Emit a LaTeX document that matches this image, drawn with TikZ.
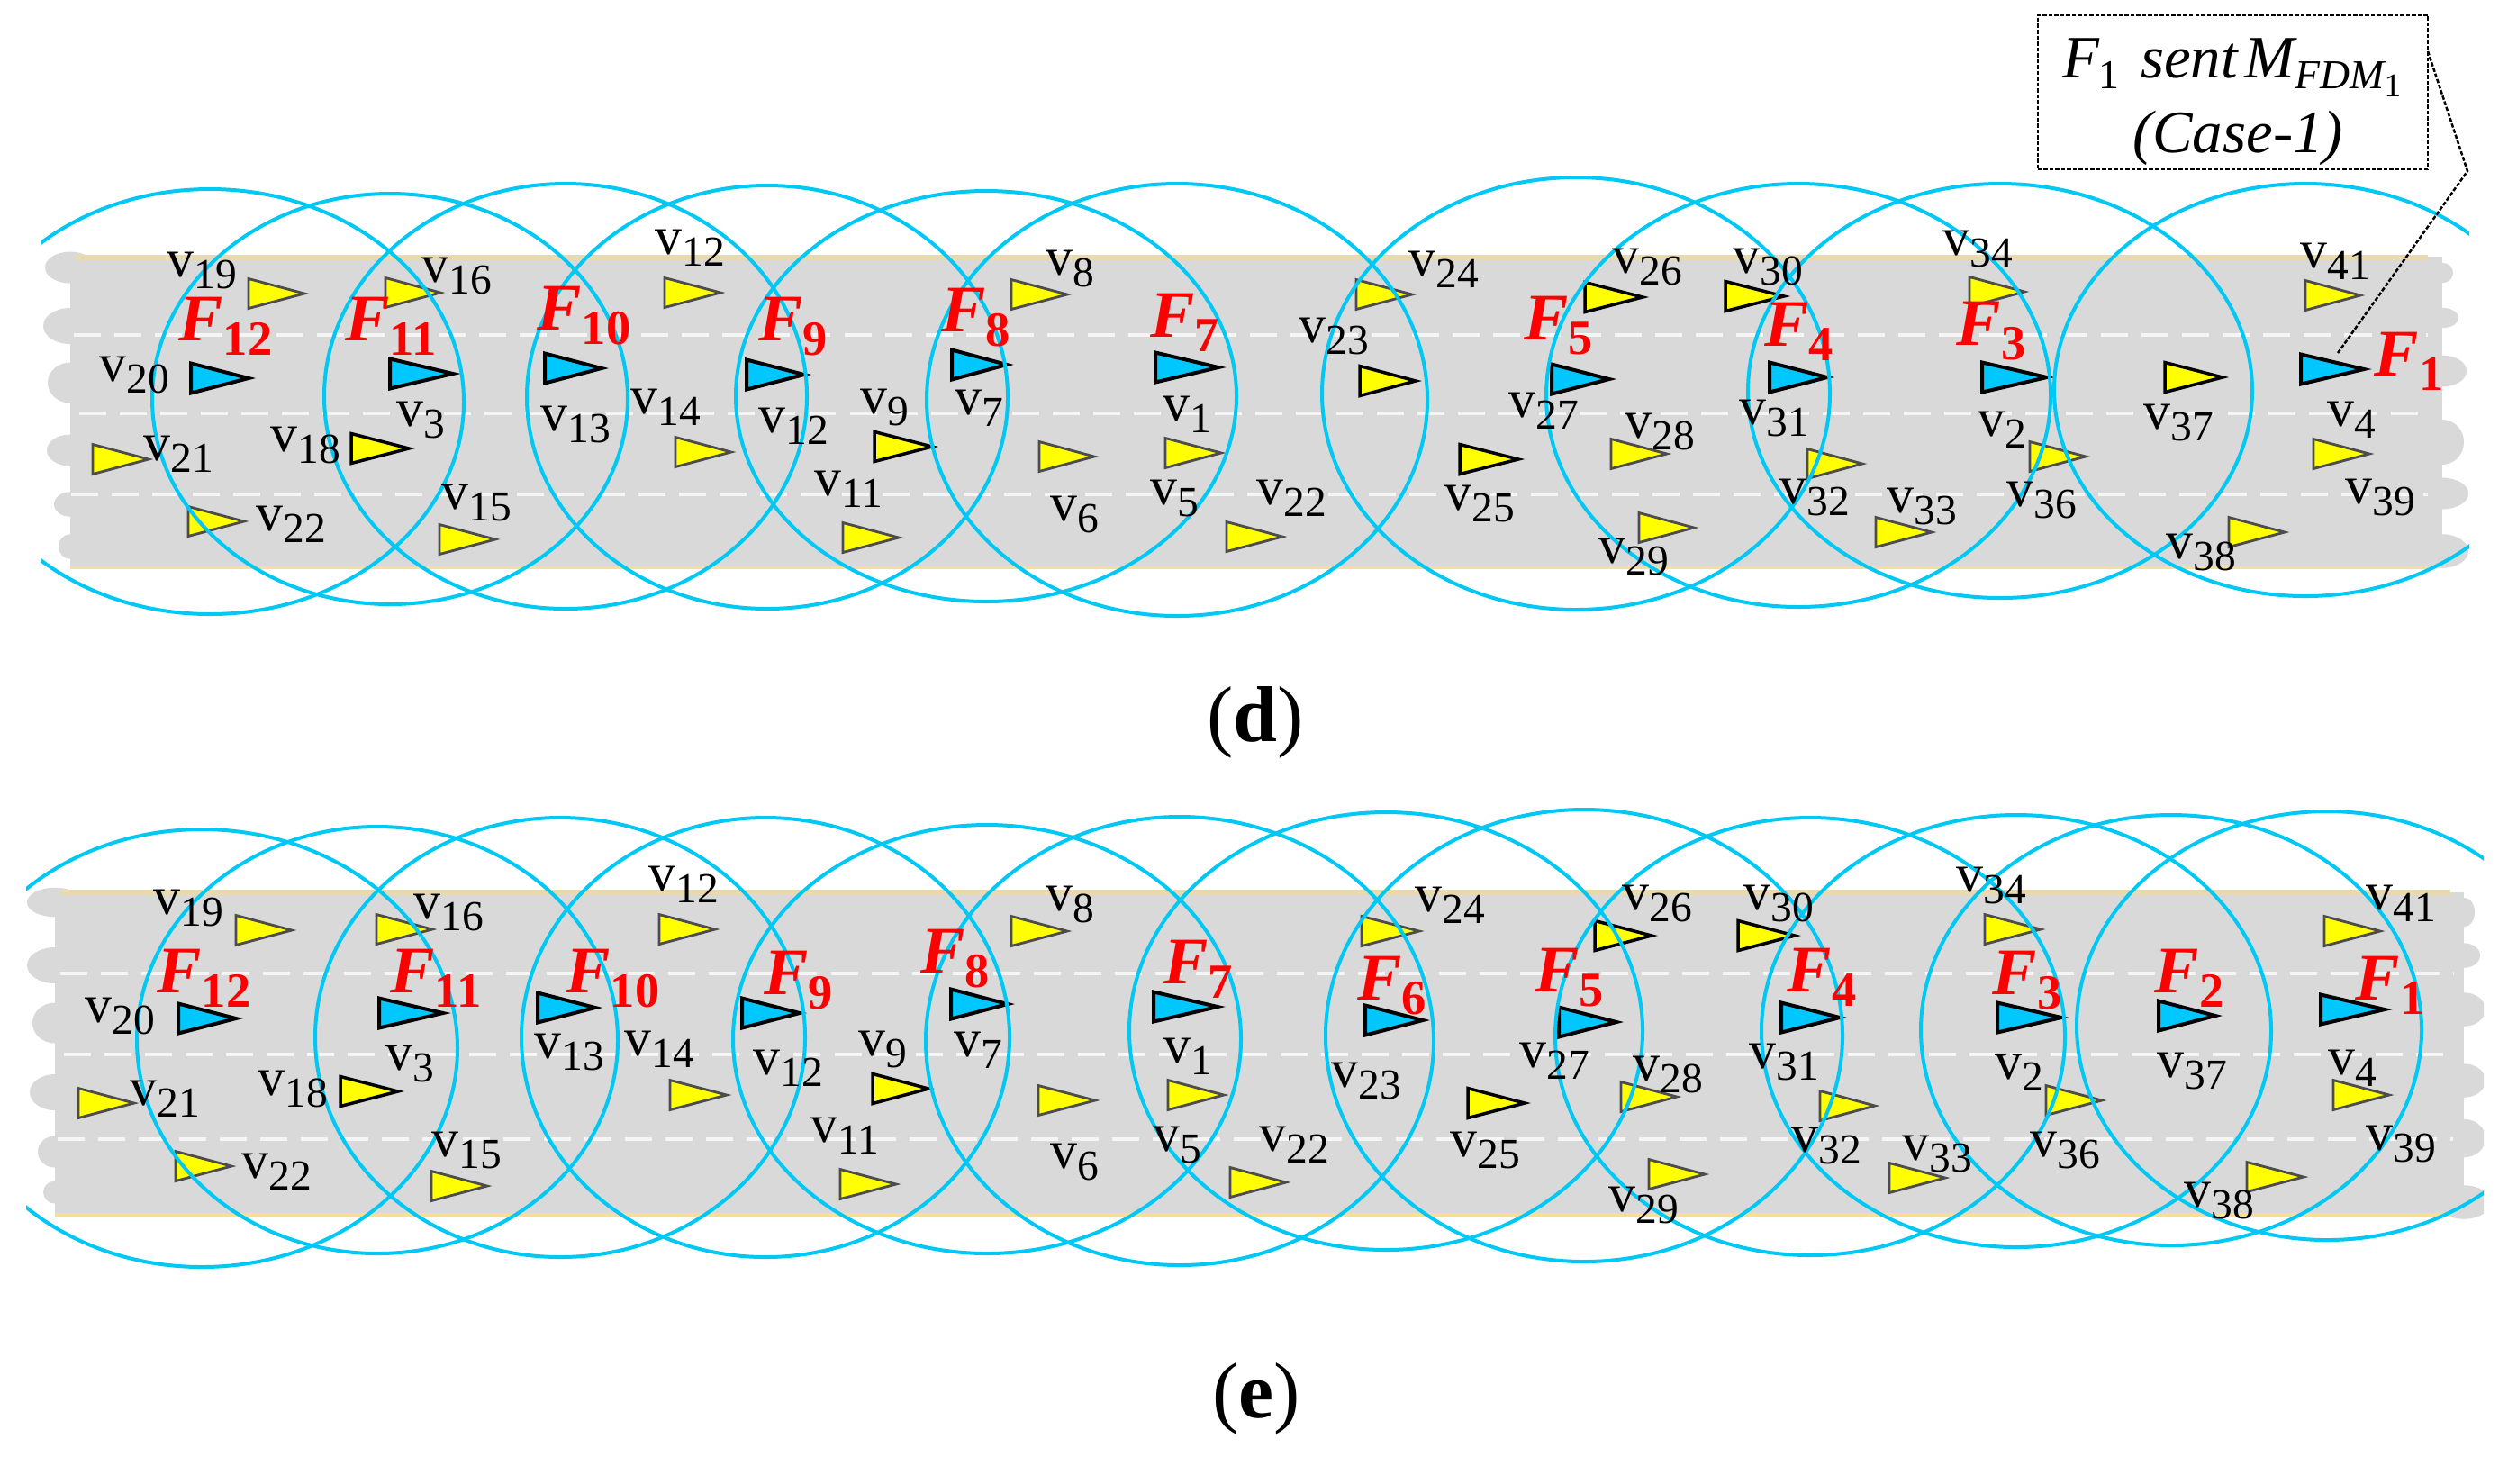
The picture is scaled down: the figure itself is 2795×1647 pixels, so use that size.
\documentclass[tikz,border=0pt]{standalone}
\usepackage{fontspec}
\setmainfont{Liberation Serif}
\definecolor{roadgray}{HTML}{D9D9D9}
\definecolor{tantop}{HTML}{E8D9AE}
\definecolor{tanbot}{HTML}{F5E09A}
\definecolor{rangecyan}{HTML}{00C8F5}
\definecolor{vehblue}{HTML}{00C8FF}
\definecolor{vehyel}{HTML}{FFFF00}
\newcount\lblcnt
\newcommand{\vlab}[3]{\global\advance\lblcnt by 1
  \node[vtext] (L\the\lblcnt) at (#1,#2) {v\raisebox{-3.9pt}{\fontsize{13.5}{14}\selectfont #3}};}
\newcommand{\flab}[3]{\global\advance\lblcnt by 1
  \node[ftext] (L\the\lblcnt) at (#1,#2) {\textit{F}\raisebox{-4.6pt}{\fontsize{15.5}{16}\selectfont #3}};}
\newcommand{\veh}[4]{\draw[#4] (#1,#2-16.5) -- (#1+#3,#2) -- (#1,#2+16.5) -- cycle;}
\newcommand{\ring}[4]{\draw[rangering] (#1,#2) ellipse [x radius=#3*0.01cm,y radius=#4*0.01cm];}
\newcommand{\bump}[4]{\fill[roadgray] (#1,#2) ellipse [x radius=#3*0.01cm,y radius=#4*0.0125cm];}
\tikzset{
  vtext/.style={anchor=base west,inner sep=0pt,text=black,font=\fontsize{17}{18}\selectfont},
  ftext/.style={anchor=base west,inner sep=0pt,text=red,font=\fontsize{21}{22}\selectfont\bfseries},
  vthin/.style={draw=black!70,line width=0.028cm,fill=vehyel,line join=miter},
  vbold/.style={draw=black,line width=0.035cm,fill=vehyel,line join=miter},
  vblue/.style={draw=black,line width=0.04cm,fill=vehblue,line join=miter},
  rangering/.style={draw=rangecyan,line width=0.04cm},
  lanedash/.style={draw=white!96!black,line width=0.04cm,dash pattern=on 0.3cm off 0.15cm},
  captext/.style={inner sep=0pt,font=\fontsize{25}{27}\selectfont,anchor=base},
  callout/.style={draw=black,line width=0.025cm,dash pattern=on 0.045cm off 0.02cm},
  boxtext/.style={inner sep=0pt,anchor=base,font=\fontsize{19}{21}\selectfont\itshape},
}
\begin{document}
\begin{tikzpicture}[x=0.01cm,y=-0.01cm]
\useasboundingbox (0,0) rectangle (2795,1647);
% ---------- panel d ----------
\begin{scope}
\clip (45,150) rectangle (2742,720);
\fill[roadgray] (78,285) rectangle (2712,630);
\foreach \ex/\ey/\ea/\eb in {78/297/28/14,78/362/30/16,78/425/25/18,78/500/26/14,78/560/18/11,78/607/13/11,
  2712/303/12/9,2712/353/18/9,2712/412/27/14,2712/491/24/20,2712/548/29/14,2712/612/29/15}
  {\bump{\ex}{\ey}{\ea}{\eb}}
\fill[tantop] (84,283) rectangle (2696,288.6);
\fill[tanbot] (78,628.5) rectangle (2696,632);
\draw[lanedash] (82,372) -- (2696,372);
\draw[lanedash] (88,459) -- (2696,459);
\draw[lanedash] (79,549) -- (2696,549);
\foreach \x/\y/\w in {276/326/62,428/325/61,738/325/62,103/510/62,750/502/62,209/579/62,488/599/62,936/597/62,
  1123/327/62,1154/507/61,1294/503/62,1362/596/62,1506/327/62,1789/504/62,1820/586/61,2187/324/61,2560/328/61,
  2569/504/62,2007/515/61,2254/507/62,2083/591/62,2475/591/62}
  {\veh{\x}{\y}{\w}{vthin}}
\foreach \x/\y/\w in {390/498/64,971/496/64,1510/423/62,1760/330/64,1621/510/65,1916/329/65,2404/419/64}
  {\veh{\x}{\y}{\w}{vbold}}
\foreach \x/\y/\w in {212/420/64,433/415/70,605/409/63,829/416/64,1057/405/61,1283/408/70,1723/421/64,1965/419/64,2201/419/72,2555/410/70}
  {\veh{\x}{\y}{\w}{vblue}}
\ring{233}{446}{282}{236}\ring{433}{443}{264}{228}\ring{628}{440}{268}{236}\ring{852}{441}{267}{235}\ring{1095}{440}{278}{228}
\ring{1307}{444}{278}{240}\ring{1750}{437}{282}{240}\ring{1997}{439}{280}{235}\ring{2221}{434}{280}{230}\ring{2560}{433}{279}{229}
\end{scope}
\foreach \x/\y/\s in {185/307/19,468/313/16,727/282/12,110/423/20,440/473/3,600/478/13,700/459/14,842/480/12,300/501/18,
  159/511/21,284/589/22,490/565/15,904/550/11,1161/305/8,1564/306/24,1790/303/26,1442/380/23,1060/460/7,955/459/9,
  1291/467/1,1675/463/27,1166/578/6,1277/560/5,1395/560/22,1604/566/25,1804/486/28,1775/625/29,1924/303/30,2157/283/34,
  2554/297/41,1931/471/31,2196/484/2,2380/476/37,2584/473/4,1976/559/32,2095/569/33,2228/562/36,2604/559/39,2405/620/38}
  {\vlab{\x}{\y}{\s}}
\foreach \x/\y/\s in {198/378/12,383/378/11,596/366/10,842/378/9,1045/368/8,1277/374/7,1692/377/5,1959/384/4,2172/383/3,2636/417/1}
  {\flab{\x}{\y}{\s}}
% callout
\node[callout,minimum width=4.33cm,minimum height=1.71cm,inner sep=0pt] (box) at (2479.5,102.5) {};
\node[boxtext] (boxline) at (2478,86)
  {F\raisebox{-3.5pt}{\fontsize{13}{14}\selectfont\upshape 1}\hspace{0.35em}sent\hspace{0.12em}M\raisebox{-3.5pt}{\fontsize{13}{14}\selectfont FDM\raisebox{-2.5pt}{\fontsize{10.5}{11}\selectfont\upshape 1}}};
\node[boxtext] (boxcase) at (2485,169) {(Case-1)};
\coordinate (boxside) at (2696,57);
\coordinate (bend) at (2740,190);
\coordinate (leaderend) at (2596,392);
\draw[callout] (boxside) -- (bend) -- (leaderend);
\node[captext] (capd) at (1394,823) {(\textbf{d})};
% ---------- panel e ----------
\begin{scope}
\clip (29,880) rectangle (2758,1420);
\fill[roadgray] (61,991) rectangle (2736,1347);
\foreach \ex/\ey/\ea/\eb in {61/1002/31/13,61/1072/31/16,61/1136/25/18,61/1213/28/16,61/1279/19/14,61/1324/13/10,
  2736/1013/12/13,2736/1061/18/11,2736/1121/24/15,2736/1200/24/15,2736/1264/24/17,2736/1335/30/15}
  {\bump{\ex}{\ey}{\ea}{\eb}}
\fill[tantop] (67,988) rectangle (2721,993.5);
\fill[tanbot] (61,1347) rectangle (2721,1352);
\draw[lanedash] (67,1081) -- (2724,1081);
\draw[lanedash] (71,1171) -- (2724,1171);
\draw[lanedash] (64,1265) -- (2724,1265);
\foreach \x/\y/\w in {262/1033/62,418/1032/62,732/1032/62,87/1225/62,744/1216/63,195/1295/62,479/1317/62,933/1315/62,
  1123/1034/62,1153/1222/63,1297/1216/62,1366/1313/62,1512/1034/64,1800/1218/62,1831/1304/62,2204/1032/62,2581/1034/62,
  2591/1216/62,2021/1228/61,2272/1222/62,2098/1308/62,2495/1307/63}
  {\veh{\x}{\y}{\w}{vthin}}
\foreach \x/\y/\w in {378/1212/64,969/1209/62,1771/1039/63,1630/1225/63,1930/1039/63}
  {\veh{\x}{\y}{\w}{vbold}}
\foreach \x/\y/\w in {198/1131/64,421/1125/71,597/1119/64,824/1125/64,1056/1115/63,1281/1118/71,1516/1133/64,1731/1135/64,
  1978/1130/65,2218/1130/71,2397/1128/63,2577/1121/71}
  {\veh{\x}{\y}{\w}{vblue}}
\ring{224}{1164}{284}{243}\ring{419}{1155}{267}{237}\ring{622}{1152}{272}{244}\ring{850}{1152}{271}{244}\ring{1096}{1154}{282}{238}
\ring{1310}{1156}{282}{249}\ring{1539}{1145}{285}{243}\ring{1759}{1150}{287}{251}\ring{2010}{1151}{283}{243}\ring{2239}{1145}{283}{240}
\ring{2411}{1144}{278}{239}\ring{2584}{1139}{278}{238}
\end{scope}
\foreach \x/\y/\s in {170/1015/19,459/1020/16,720/989/12,94/1135/20,428/1188/3,593/1175/13,693/1172/14,836/1193/12,286/1216/18,
  144/1227/21,268/1308/22,479/1284/15,900/1268/11,1161/1011/8,1571/1012/24,1801/1010/26,1478/1207/23,1059/1173/7,953/1172/9,
  1292/1180/1,1687/1185/27,1166/1297/6,1280/1278/5,1398/1278/22,1610/1284/25,1813/1200/28,1786/1345/29,1936/1010/30,2172/990/34,
  2627/1010/41,1942/1186/31,2215/1198/2,2395/1196/37,2585/1193/4,1989/1279/32,2112/1288/33,2254/1284/36,2627/1277/39,2425/1340/38}
  {\vlab{\x}{\y}{\s}}
\foreach \x/\y/\s in {174/1102/12,433/1102/11,628/1102/10,848/1104/9,1022/1080/8,1292/1092/7,1507/1110/6,1704/1101/5,1984/1101/4,2212/1104/3,2392/1102/2,2615/1110/1}
  {\flab{\x}{\y}{\s}}
\node[captext] (cape) at (1395,1574) {(\textbf{e})};
\end{tikzpicture}
\end{document}
